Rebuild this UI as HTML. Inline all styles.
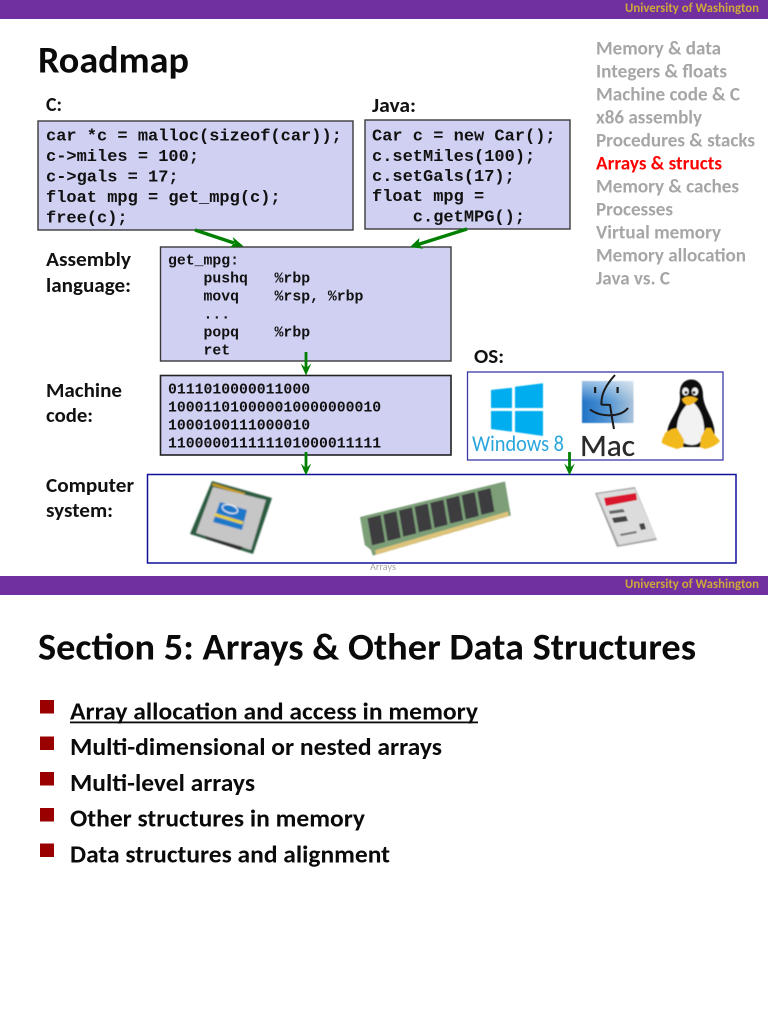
<!DOCTYPE html>
<html>
<head>
<meta charset="utf-8">
<title>Roadmap</title>
<style>
html,body{margin:0;padding:0;background:#fff;width:768px;height:1024px;overflow:hidden}
svg{display:block}
.s{font-family:"Carlito","Liberation Sans",sans-serif;font-weight:700}
.m{font-family:"Liberation Mono",monospace;font-weight:700;fill:#111;white-space:pre}
.l{font-size:20px;fill:#111}
.side{font-size:18.67px;fill:#a6a6a6}
.uw{font-size:13px;fill:#cfa83c}
.b{font-size:24.5px;fill:#0a0a0a}
.t{font-size:37.33px;fill:#0a0a0a}
.c{font-size:17px}
.a{font-size:14.8px}
</style>
</head>
<body>
<svg width="768" height="1024" viewBox="0 0 768 1024" xmlns="http://www.w3.org/2000/svg">
<defs>
<filter id="bl" x="-10%" y="-10%" width="120%" height="120%"><feGaussianBlur stdDeviation="0.6"/></filter>
<filter id="bl2" x="-10%" y="-10%" width="120%" height="120%"><feGaussianBlur stdDeviation="0.8"/></filter>
<linearGradient id="fd" x1="0" y1="0" x2="1" y2="0"><stop offset="0" stop-color="#2273c6"/><stop offset="0.45" stop-color="#4a90d2"/><stop offset="1" stop-color="#a9c3da"/></linearGradient>
<linearGradient id="fd2" x1="0" y1="0" x2="0" y2="1"><stop offset="0" stop-color="#fff" stop-opacity="0.55"/><stop offset="0.5" stop-color="#fff" stop-opacity="0"/></linearGradient>
</defs>
<rect width="768" height="1024" fill="#fff"/>

<!-- bands -->
<rect x="0" y="0" width="768" height="19" fill="#70309f"/>
<rect x="0" y="576" width="768" height="19" fill="#70309f"/>
<text class="s uw" x="625" y="12" textLength="134" lengthAdjust="spacingAndGlyphs">University of Washington</text>
<text class="s uw" x="625" y="588" textLength="134" lengthAdjust="spacingAndGlyphs">University of Washington</text>

<!-- title -->
<text class="s t" x="38" y="72.500" textLength="151" lengthAdjust="spacingAndGlyphs">Roadmap</text>

<!-- sidebar -->
<text class="s side" x="596" y="54.700" textLength="125" lengthAdjust="spacingAndGlyphs">Memory &amp; data</text>
<text class="s side" x="596" y="77.700" textLength="131" lengthAdjust="spacingAndGlyphs">Integers &amp; floats</text>
<text class="s side" x="596" y="100.300" textLength="144" lengthAdjust="spacingAndGlyphs">Machine code &amp; C</text>
<text class="s side" x="596" y="123.700" textLength="106" lengthAdjust="spacingAndGlyphs">x86 assembly</text>
<text class="s side" x="596" y="146.700" textLength="159" lengthAdjust="spacingAndGlyphs">Procedures &amp; stacks</text>
<text class="s side" x="596" y="169.700" textLength="126" lengthAdjust="spacingAndGlyphs" style="fill:#ff0000">Arrays &amp; structs</text>
<text class="s side" x="596" y="192.700" textLength="143" lengthAdjust="spacingAndGlyphs">Memory &amp; caches</text>
<text class="s side" x="596" y="215.300" textLength="77" lengthAdjust="spacingAndGlyphs">Processes</text>
<text class="s side" x="596" y="238.700" textLength="125" lengthAdjust="spacingAndGlyphs">Virtual memory</text>
<text class="s side" x="596" y="261.700" textLength="150" lengthAdjust="spacingAndGlyphs">Memory allocation</text>
<text class="s side" x="596" y="284.700" textLength="74" lengthAdjust="spacingAndGlyphs">Java vs. C</text>

<!-- labels -->
<text class="s l" x="46" y="111" textLength="16" lengthAdjust="spacingAndGlyphs">C:</text>
<text class="s l" x="372" y="112" textLength="44" lengthAdjust="spacingAndGlyphs">Java:</text>
<text class="s l" x="46" y="266" textLength="85" lengthAdjust="spacingAndGlyphs">Assembly</text>
<text class="s l" x="46" y="292" textLength="85" lengthAdjust="spacingAndGlyphs">language:</text>
<text class="s l" x="46" y="397" textLength="76" lengthAdjust="spacingAndGlyphs">Machine</text>
<text class="s l" x="46" y="422" textLength="47" lengthAdjust="spacingAndGlyphs">code:</text>
<text class="s l" x="46" y="492" textLength="88" lengthAdjust="spacingAndGlyphs">Computer</text>
<text class="s l" x="46" y="517" textLength="67" lengthAdjust="spacingAndGlyphs">system:</text>
<text class="s l" x="474" y="363" textLength="30" lengthAdjust="spacingAndGlyphs">OS:</text>

<!-- code boxes -->
<rect x="38" y="121" width="315" height="109" fill="#d0d0f3" stroke="#3a3a3a" stroke-width="1.4"/>
<rect x="365" y="120" width="205" height="109" fill="#d0d0f3" stroke="#3a3a3a" stroke-width="1.4"/>
<rect x="160.500" y="247" width="290.500" height="114" fill="#d0d0f3" stroke="#3a3a3a" stroke-width="1.4"/>
<rect x="160.500" y="375.500" width="290.500" height="79.500" fill="#d0d0f3" stroke="#222" stroke-width="1.6"/>

<text class="m c" x="46" y="140.500">car *c = malloc(sizeof(car));</text>
<text class="m c" x="46" y="161">c-&gt;miles = 100;</text>
<text class="m c" x="46" y="181.500">c-&gt;gals = 17;</text>
<text class="m c" x="46" y="202">float mpg = get_mpg(c);</text>
<text class="m c" x="46" y="222.500">free(c);</text>

<text class="m c" x="372" y="140.500">Car c = new Car();</text>
<text class="m c" x="372" y="161">c.setMiles(100);</text>
<text class="m c" x="372" y="181">c.setGals(17);</text>
<text class="m c" x="372" y="201">float mpg =</text>
<text class="m c" x="372" y="221.500">    c.getMPG();</text>

<text class="m a" x="168" y="264.500">get_mpg:</text>
<text class="m a" x="168" y="282.500">    pushq   %rbp</text>
<text class="m a" x="168" y="300.500">    movq    %rsp, %rbp</text>
<text class="m a" x="168" y="318.500">    ...</text>
<text class="m a" x="168" y="336.500">    popq    %rbp</text>
<text class="m a" x="168" y="354.500">    ret</text>

<text class="m a" x="168" y="393.500">0111010000011000</text>
<text class="m a" x="168" y="411.500">100011010000010000000010</text>
<text class="m a" x="168" y="429.500">1000100111000010</text>
<text class="m a" x="168" y="447.500">110000011111101000011111</text>

<!-- OS and computer boxes -->
<rect x="467.500" y="372" width="255.500" height="88" fill="#fff" stroke="#3a3aa8" stroke-width="1.3"/>
<rect x="147.500" y="474.500" width="588.500" height="88.500" fill="#fff" stroke="#10109a" stroke-width="1.5"/>

<!-- Windows logo -->
<g filter="url(#bl)" fill="#00adef">
<path d="M491 390L512 387.700V408H491Z"/>
<path d="M515 386.700L543 383.300V408H515Z"/>
<path d="M491 411H512V431.700L491 429Z"/>
<path d="M515 411H543V436L515 432Z"/>
</g>
<text x="472" y="451" font-family="Carlito,'Liberation Sans',sans-serif" font-size="23" fill="#2aa6dc" textLength="92" lengthAdjust="spacingAndGlyphs">Windows 8</text>

<!-- Mac -->
<g>
<g filter="url(#bl)">
<rect x="582" y="381" width="51.500" height="42" fill="url(#fd)"/>
<rect x="582" y="381" width="51.500" height="42" fill="url(#fd2)"/>
</g>
<path d="M615 375C605 386 601 395 601.500 404.500C602 405 608 404.500 610 405C611 411 612 419 614 429" fill="none" stroke="#1a1a1a" stroke-width="2"/>
<path d="M590 409.500C600 417 620 418 628 408" fill="none" stroke="#1a1a1a" stroke-width="2"/>
<rect x="594" y="387" width="2.200" height="6" fill="#1a1a1a"/>
<rect x="616.500" y="387" width="2.200" height="6" fill="#1a1a1a"/>
</g>
<text x="580" y="456" font-family="Carlito,'Liberation Sans',sans-serif" font-size="31" fill="#2a2a2a" stroke="#2a2a2a" stroke-width="0.3" textLength="55" lengthAdjust="spacingAndGlyphs">Mac</text>

<!-- Tux -->
<g filter="url(#bl)">
<path d="M691 379.500C699 379.500 703 386 703 396C704 408 712 416 714 428C716 438 712 444 705 447H679C670 444 665 438 668 428C671 417 681 408 680 396C679 386 683 380 691 379.500Z" fill="#0c0c0c"/>
<path d="M691 401C683 407 677 417 677 428C677 438 682 445 692 445C701 445 705 437 704 426C703 415 698 405 691 401Z" fill="#f2f2f2"/>
<ellipse cx="685.500" cy="391.500" rx="3.300" ry="4" fill="#eee"/>
<ellipse cx="695" cy="391.500" rx="3.300" ry="4" fill="#eee"/>
<circle cx="686" cy="392.500" r="1.500" fill="#111"/>
<circle cx="694" cy="392.500" r="1.500" fill="#111"/>
<path d="M682 399C686 395.500 693 395.500 698 399C695 403 690 405.500 688 405.500C686 405 682 402 682 399Z" fill="#f0b41c"/>
<path d="M672 429L677 428L684 440L683 447L677 449C671 447 665 445 662 443C661 440 664 437 665 433Z" fill="#f2b91f"/>
<path d="M706 428L711 428L714 434L720 441C717 445 710 448 705 449L700 447L701 437Z" fill="#f2b91f"/>
</g>

<!-- CPU -->
<g filter="url(#bl2)">
<path d="M212 481L272 498L253 554L190 534Z" fill="#2a5c40"/>
<path d="M213 483L245 493L244 495.500L212 485.500Z" fill="#c69a1e"/>
<path d="M213 487L266 500L251 550L196 533Z" fill="#c6c6c6"/>
<path d="M205 536L243 547L240 550L207 539Z" fill="#2a2a2a"/>
<path d="M220 502L247 510L242 530L213 522Z" fill="#1a78c8"/>
<path d="M215 513L243.500 521.500L242.500 524.500L214 516Z" fill="#e9cf3a"/>
<ellipse cx="230" cy="509" rx="8" ry="4" transform="rotate(16 230 509)" fill="none" stroke="#fff" stroke-width="1"/>
</g>

<!-- RAM -->
<g filter="url(#bl)" transform="matrix(1 -0.245 0.17 1 360 517)">
<path d="M0 0H145V34L8 40H6L5 34L0 28Z" fill="#7c9f78"/>
<rect x="7" y="3" width="13" height="27" fill="#3c3c40"/>
<rect x="22.700" y="3" width="13" height="26.500" fill="#3c3c40"/>
<rect x="38.400" y="3" width="13" height="26" fill="#3c3c40"/>
<rect x="54.100" y="3" width="13" height="25.500" fill="#3c3c40"/>
<rect x="69.800" y="3" width="13" height="25" fill="#3c3c40"/>
<rect x="85.500" y="3" width="13" height="24.500" fill="#3c3c40"/>
<rect x="101.200" y="3" width="13" height="24" fill="#3c3c40"/>
<rect x="116.900" y="3" width="13" height="23.500" fill="#3c3c40"/>
<path d="M9 35.500L143 29.500V34L9 40Z" fill="#dcc27a"/>
</g>

<!-- SSD -->
<g filter="url(#bl)">
<path d="M595 493L635 487L657 540L617 547Z" fill="#a8a8a8"/>
<path d="M597 494L635 488.500L656 538L619 545Z" fill="#dcdcdc"/>
<path d="M604 498L636 493L637 500L606 506Z" fill="#d9182d"/>
<path d="M609 511L623 509L625 512L610 514Z" fill="#666"/>
<path d="M612 518L626 516L628 521L614 523Z" fill="#444"/>
<path d="M639 524L644 523L646 529L641 530Z" fill="#444"/>
<path d="M620 534L636 531L637 533L621 536Z" fill="#777"/>
</g>

<!-- arrows -->
<g fill="#008000" stroke="none">
<path d="M195 230L234 243" stroke="#008000" stroke-width="3.400" fill="none"/>
<path d="M243.500 246.200L229.500 247.500L234.500 243.200L232.700 237L243.500 246.200Z"/>
<path d="M467 229L418 244.500" stroke="#008000" stroke-width="3.400" fill="none"/>
<path d="M410 247L419.400 238L418.600 244.300L423.400 248.800Z"/>
<path d="M304.600 352H307.400V367L311.300 363.500L306 375.500L300.700 363.500L304.600 367Z"/>
<path d="M304.600 452H307.400V467L311.300 463.500L306 475.500L300.700 463.500L304.600 467Z"/>
<path d="M568.100 452H570.900V467L574.800 463.500L569.500 475.500L564.200 463.500L568.100 467Z"/>
</g>

<!-- small page label -->
<text x="370" y="570" font-family="Carlito,'Liberation Sans',sans-serif" font-size="10" fill="#a9a9a9" textLength="26" lengthAdjust="spacingAndGlyphs">Arrays</text>

<!-- section slide -->
<text class="s t" x="38" y="659.500" textLength="658" lengthAdjust="spacingAndGlyphs">Section 5: Arrays &amp; Other Data Structures</text>

<rect x="40" y="700" width="14" height="13.500" fill="#990000"/>
<rect x="40" y="736.500" width="14" height="13.500" fill="#990000"/>
<rect x="40" y="772" width="14" height="13.500" fill="#990000"/>
<rect x="40" y="808" width="14" height="13.500" fill="#990000"/>
<rect x="40" y="843.500" width="14" height="13.500" fill="#990000"/>

<text class="s b" x="70" y="719.500" textLength="408" lengthAdjust="spacingAndGlyphs">Array allocation and access in memory</text>
<rect x="70" y="721.500" width="408" height="1.800" fill="#0a0a0a"/>
<text class="s b" x="70" y="755" textLength="372" lengthAdjust="spacingAndGlyphs">Multi-dimensional or nested arrays</text>
<text class="s b" x="70" y="791" textLength="185" lengthAdjust="spacingAndGlyphs">Multi-level arrays</text>
<text class="s b" x="70" y="826.500" textLength="295" lengthAdjust="spacingAndGlyphs">Other structures in memory</text>
<text class="s b" x="70" y="862.500" textLength="320" lengthAdjust="spacingAndGlyphs">Data structures and alignment</text>
</svg>
</body>
</html>
